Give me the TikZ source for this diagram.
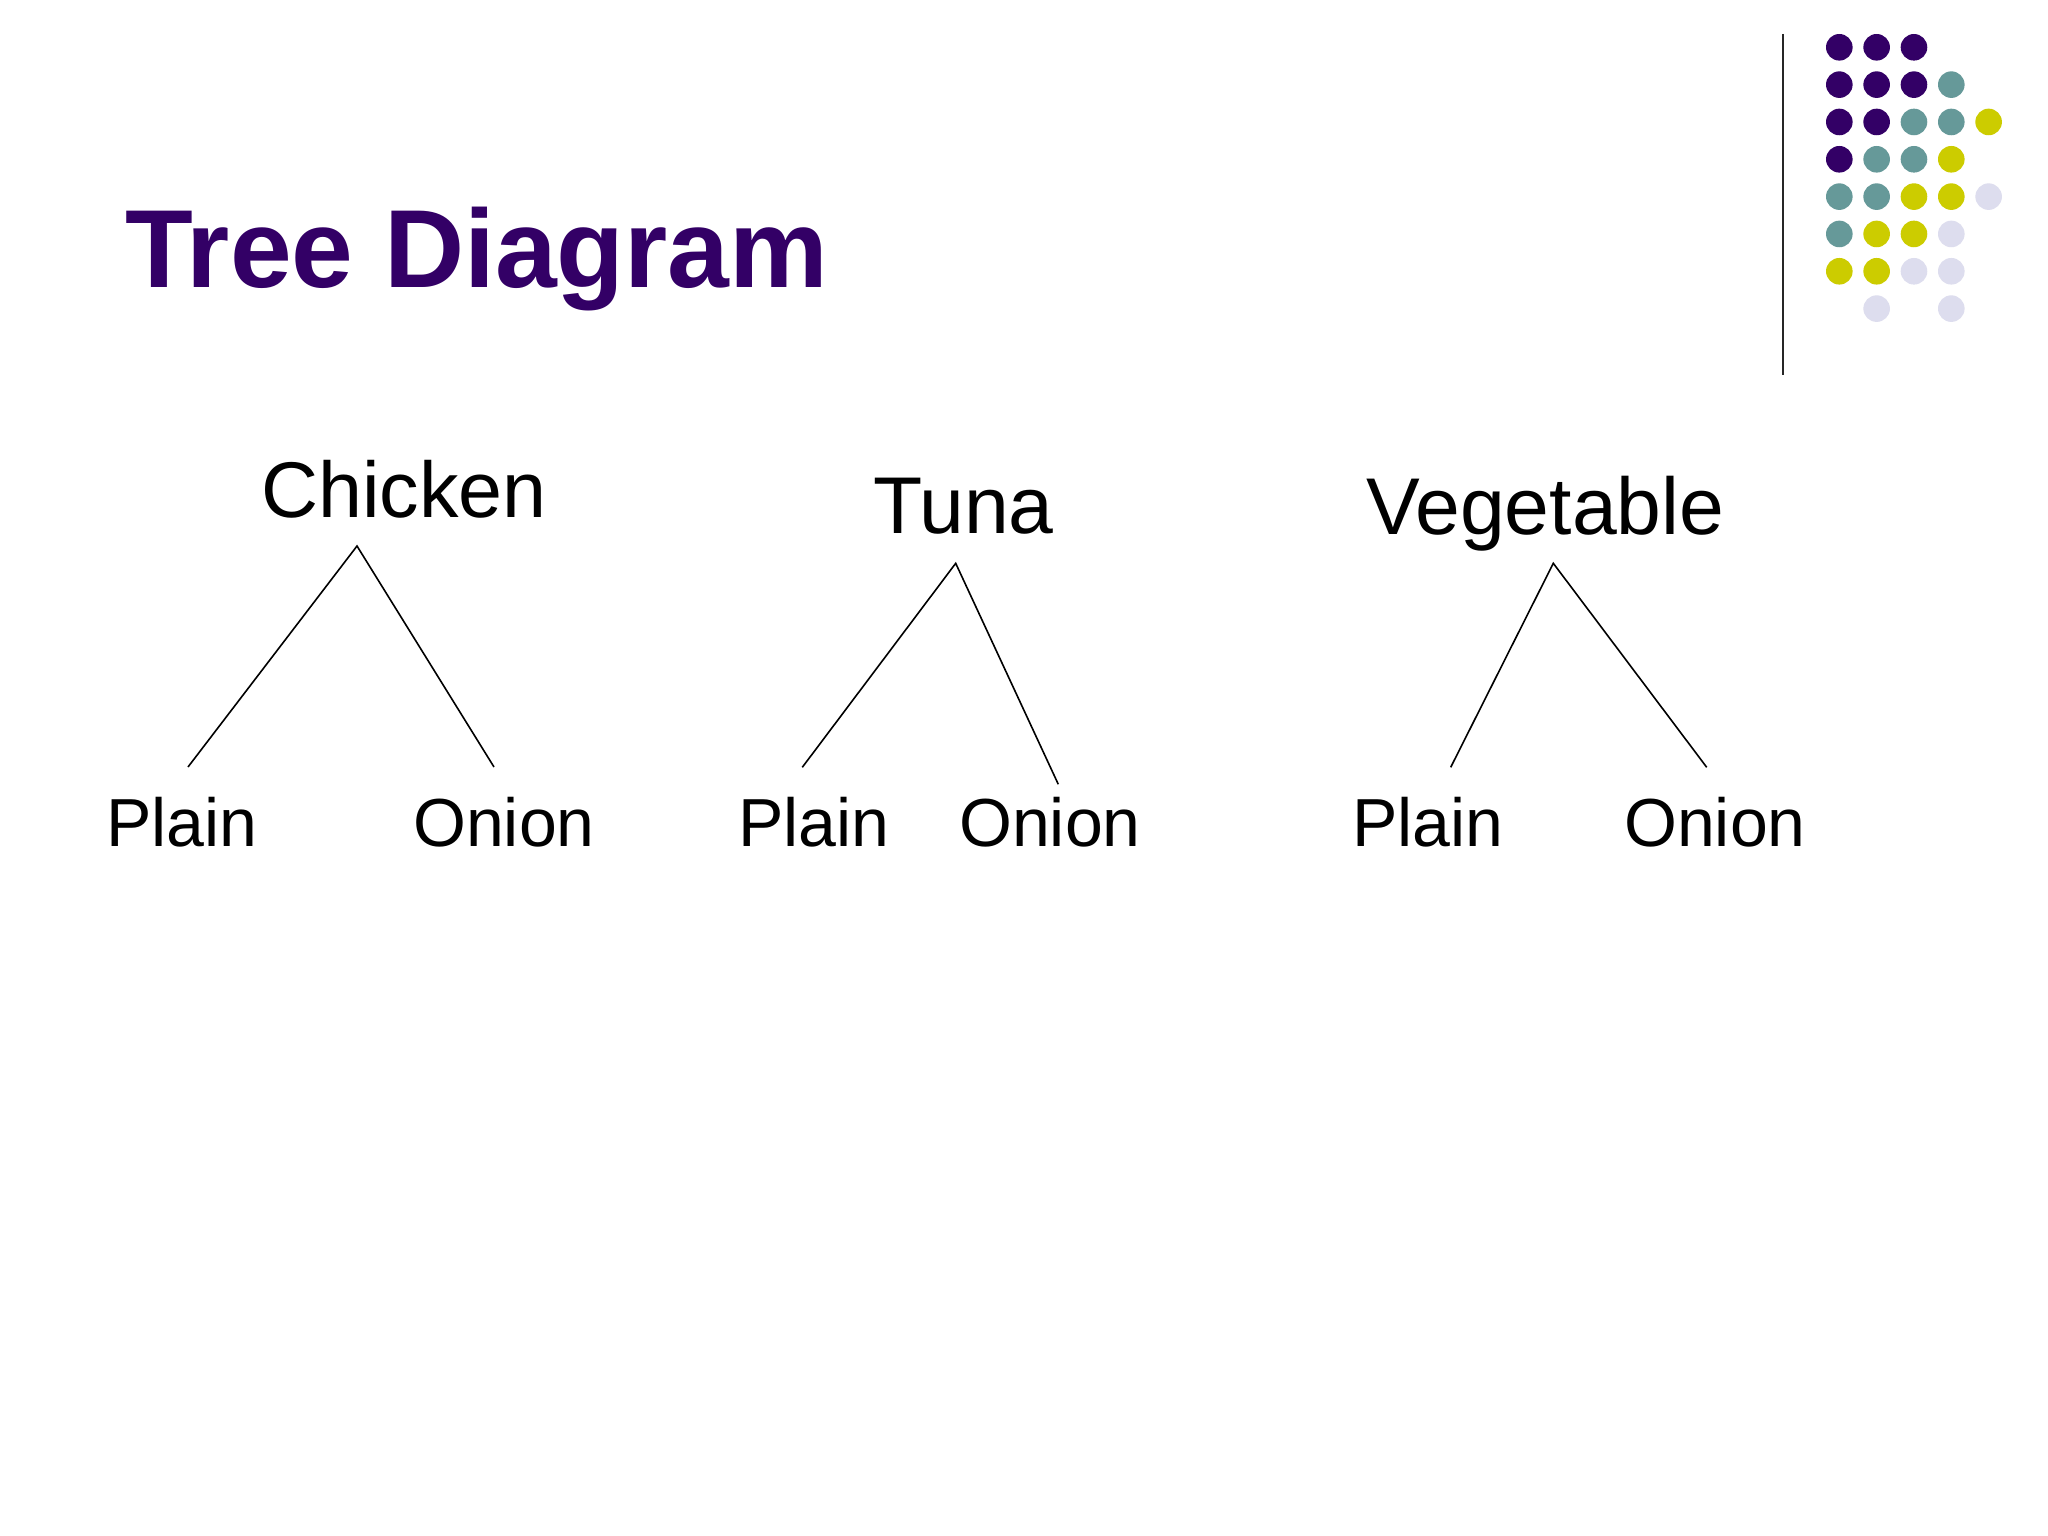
\documentclass[tikz,border=0pt]{standalone}
\usepackage{fontspec}
\setmainfont{Liberation Sans}
\definecolor{dpurple}{RGB}{51,0,102}
\definecolor{dteal}{RGB}{102,153,153}
\definecolor{dyellow}{RGB}{204,204,0}
\definecolor{dlav}{RGB}{221,221,238}
\tikzset{
  toplabel/.style={anchor=base west,inner sep=0pt,font=\fontsize{80.5}{92}\selectfont},
  leaflabel/.style={anchor=base west,inner sep=0pt,font=\fontsize{68}{80}\selectfont},
  branch/.style={line width=1.6pt,black},
  dot/.style={circle,inner sep=0pt,minimum size=26.6pt}
}
\begin{document}
\begin{tikzpicture}[x=1pt,y=-1pt]
\useasboundingbox (0,0) rectangle (2048,1536);
\fill[white] (0,0) rectangle (2048,1536);
% title
\node[anchor=base west,inner sep=0pt,text=dpurple,font=\fontsize{111}{130}\selectfont\bfseries] (title) at (125,287) {Tree Diagram};
% vertical rule
\coordinate (rtop) at (1783.3,34);
\coordinate (rbot) at (1783.3,375);
\draw[line width=2pt,black!85] (rtop) -- (rbot);
% dots
\foreach \r/\i/\col in {
  0/0/dpurple,0/1/dpurple,0/2/dpurple,
  1/0/dpurple,1/1/dpurple,1/2/dpurple,1/3/dteal,
  2/0/dpurple,2/1/dpurple,2/2/dteal,2/3/dteal,2/4/dyellow,
  3/0/dpurple,3/1/dteal,3/2/dteal,3/3/dyellow,
  4/0/dteal,4/1/dteal,4/2/dyellow,4/3/dyellow,4/4/dlav,
  5/0/dteal,5/1/dyellow,5/2/dyellow,5/3/dlav,
  6/0/dyellow,6/1/dyellow,6/2/dlav,6/3/dlav,
  7/1/dlav,7/3/dlav}{
  \node[dot,fill=\col] (d-\r-\i) at (1839.3+37.33*\i,47.3+37.33*\r) {};
}
% Chicken tree
\node[toplabel,font=\fontsize{79}{92}\selectfont] (chicken) at (261,517.5) {Chicken};
\node[leaflabel] (cplain) at (106,846.7) {Plain};
\node[leaflabel] (conion) at (413,846.7) {Onion};
\coordinate (ca) at (357,546);
\coordinate (cl) at (188,767);
\coordinate (cr) at (494,767);
\draw[branch] (cl) -- (ca) -- (cr);
% Tuna tree
\node[toplabel] (tuna) at (873,533.5) {Tuna};
\node[leaflabel] (tplain) at (738,846.7) {Plain};
\node[leaflabel] (tonion) at (959,846.7) {Onion};
\coordinate (ta) at (955.7,563.3);
\coordinate (tl) at (802.3,767.3);
\coordinate (tr) at (1058.3,784.3);
\draw[branch] (tl) -- (ta) -- (tr);
% Vegetable tree
\node[toplabel] (veg) at (1366,534) {Vegetable};
\node[leaflabel] (vplain) at (1352,846.7) {Plain};
\node[leaflabel] (vonion) at (1624,846.7) {Onion};
\coordinate (va) at (1553.3,563.3);
\coordinate (vl) at (1450.7,767.3);
\coordinate (vr) at (1706.7,767.3);
\draw[branch] (vl) -- (va) -- (vr);
\end{tikzpicture}
\end{document}
